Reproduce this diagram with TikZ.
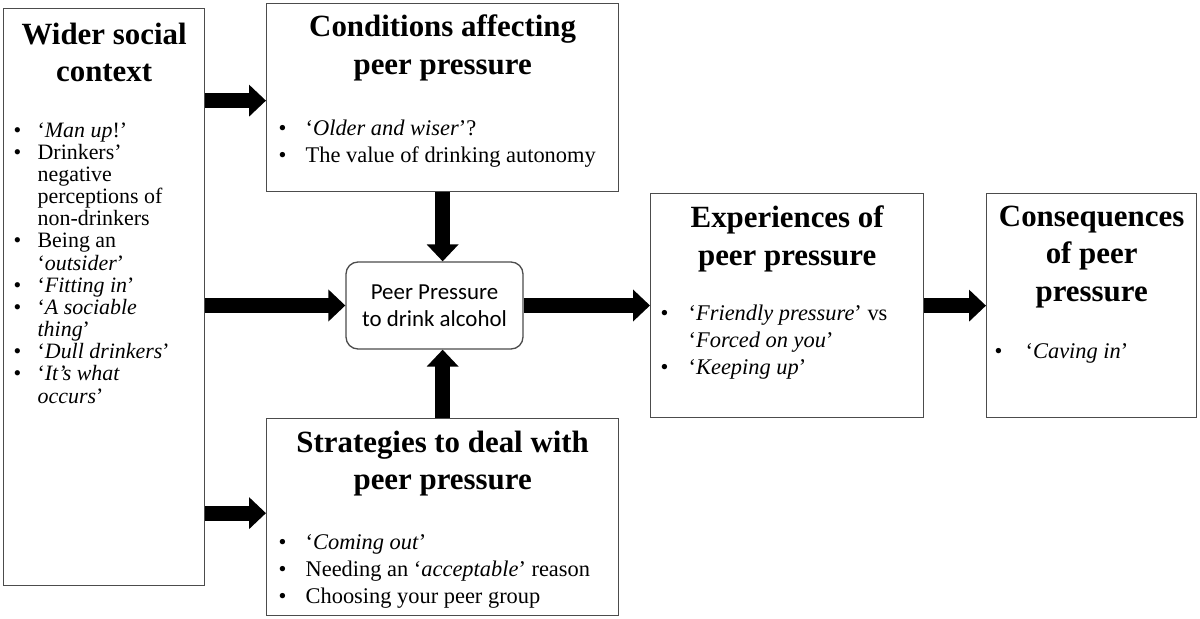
\documentclass[tikz,border=0pt]{standalone}
\usepackage{fontspec}
\setmainfont{Liberation Serif}
\newfontfamily\calibri{Carlito}
\usetikzlibrary{arrows.meta,positioning}

\newlength{\lbl}
\newcommand{\hd}[1]{{\centering\bfseries\fontsize{31}{38}\selectfont #1\par}}
\newcommand{\bodyfont}{\fontsize{22.5}{26.8}\selectfont}
\newcommand{\tightfont}{\fontsize{22}{22.25}\selectfont}
\newcommand{\li}[1]{\par\noindent\hangindent=\lbl\hangafter=1\makebox[\lbl][l]{\textbullet}#1}
% #1 width, #2 height, #3 top, #4 left of bullet, #5 bullet to text, #6 gap, #7 heading, #8 items
\newcommand{\panel}[8]{\parbox[c][#2][t]{#1}{\vspace*{#3}\hd{#7}\vspace{#6}%
  \raggedright\leftskip=#4\setlength{\lbl}{#5}#8\par}}

\tikzset{
  box/.style={draw=black!70,line width=1.3bp,inner sep=0pt,anchor=north west},
  hub/.style={draw=black!70,line width=1.3bp,rounded corners=12bp,align=center,
    minimum width=177bp,minimum height=87bp,font=\calibri\fontsize{23}{27}\selectfont},
  bigarrow/.style={line width=15bp,-{Triangle[length=17bp,width=31bp]}},
}

\begin{document}
\begin{tikzpicture}[x=1bp,y=-1bp]
\useasboundingbox (0,0) rectangle (1200,619);

\node[box] (wider) at (3,8) {\panel{201bp}{577bp}{14bp}{10bp}{24bp}{33bp}{Wider social\\context}{\tightfont
  \li{`\textit{Man up}!'}
  \li{Drinkers'\newline negative\newline perceptions of\newline non-drinkers}
  \li{Being an\newline `\textit{outsider}'}
  \li{`\textit{Fitting in}'}
  \li{`\textit{A sociable}\newline \textit{thing}'}
  \li{`\textit{Dull drinkers}'}
  \li{`\textit{It's what}\newline \textit{occurs}'}}};

\node[box] (cond) at (266,3) {\panel{352bp}{188bp}{11bp}{12bp}{27bp}{35bp}{Conditions affecting\\peer pressure}{\bodyfont
  \li{`\textit{Older and wiser}'?}
  \li{The value of drinking autonomy}}};

\node[box] (strat) at (266,418) {\panel{352bp}{197bp}{12bp}{12bp}{27bp}{33bp}{Strategies to deal with\\peer pressure}{\bodyfont
  \li{`\textit{Coming out}'}
  \li{Needing an `\textit{acceptable}' reason}
  \li{Choosing your peer group}}};

\node[box] (exper) at (650,193) {\panel{273bp}{224bp}{12bp}{10bp}{28bp}{29bp}{Experiences of\\peer pressure}{\bodyfont
  \li{`\textit{Friendly pressure}' vs\newline `\textit{Forced on you}'}
  \li{`\textit{Keeping up}'}}};

\node[box] (conseq) at (986,193) {\panel{210bp}{224bp}{12bp}{8bp}{31bp}{30bp}{Consequences\\of peer\\pressure}{\bodyfont
  \li{`\textit{Caving in}'}}};

\node[hub] (peer) at (434.5,305.5) {Peer Pressure\\to drink alcohol};

% block arrows
\draw[bigarrow] ([yshift=-3bp]wider.east |- cond.west) -- ([yshift=-3bp]cond.west);
\draw[bigarrow] (wider.east |- peer.west) -- (peer.west);
\draw[bigarrow] ([yshift=4bp]wider.east |- strat.west) -- ([yshift=4bp]strat.west);
\draw[bigarrow] (cond.south) -- (cond.south |- peer.north);
\draw[bigarrow] (strat.north) -- (strat.north |- peer.south);
\draw[bigarrow] (peer.east) -- (exper.west |- peer.east);
\draw[bigarrow] (exper.east) -- (conseq.west);
\end{tikzpicture}
\end{document}
